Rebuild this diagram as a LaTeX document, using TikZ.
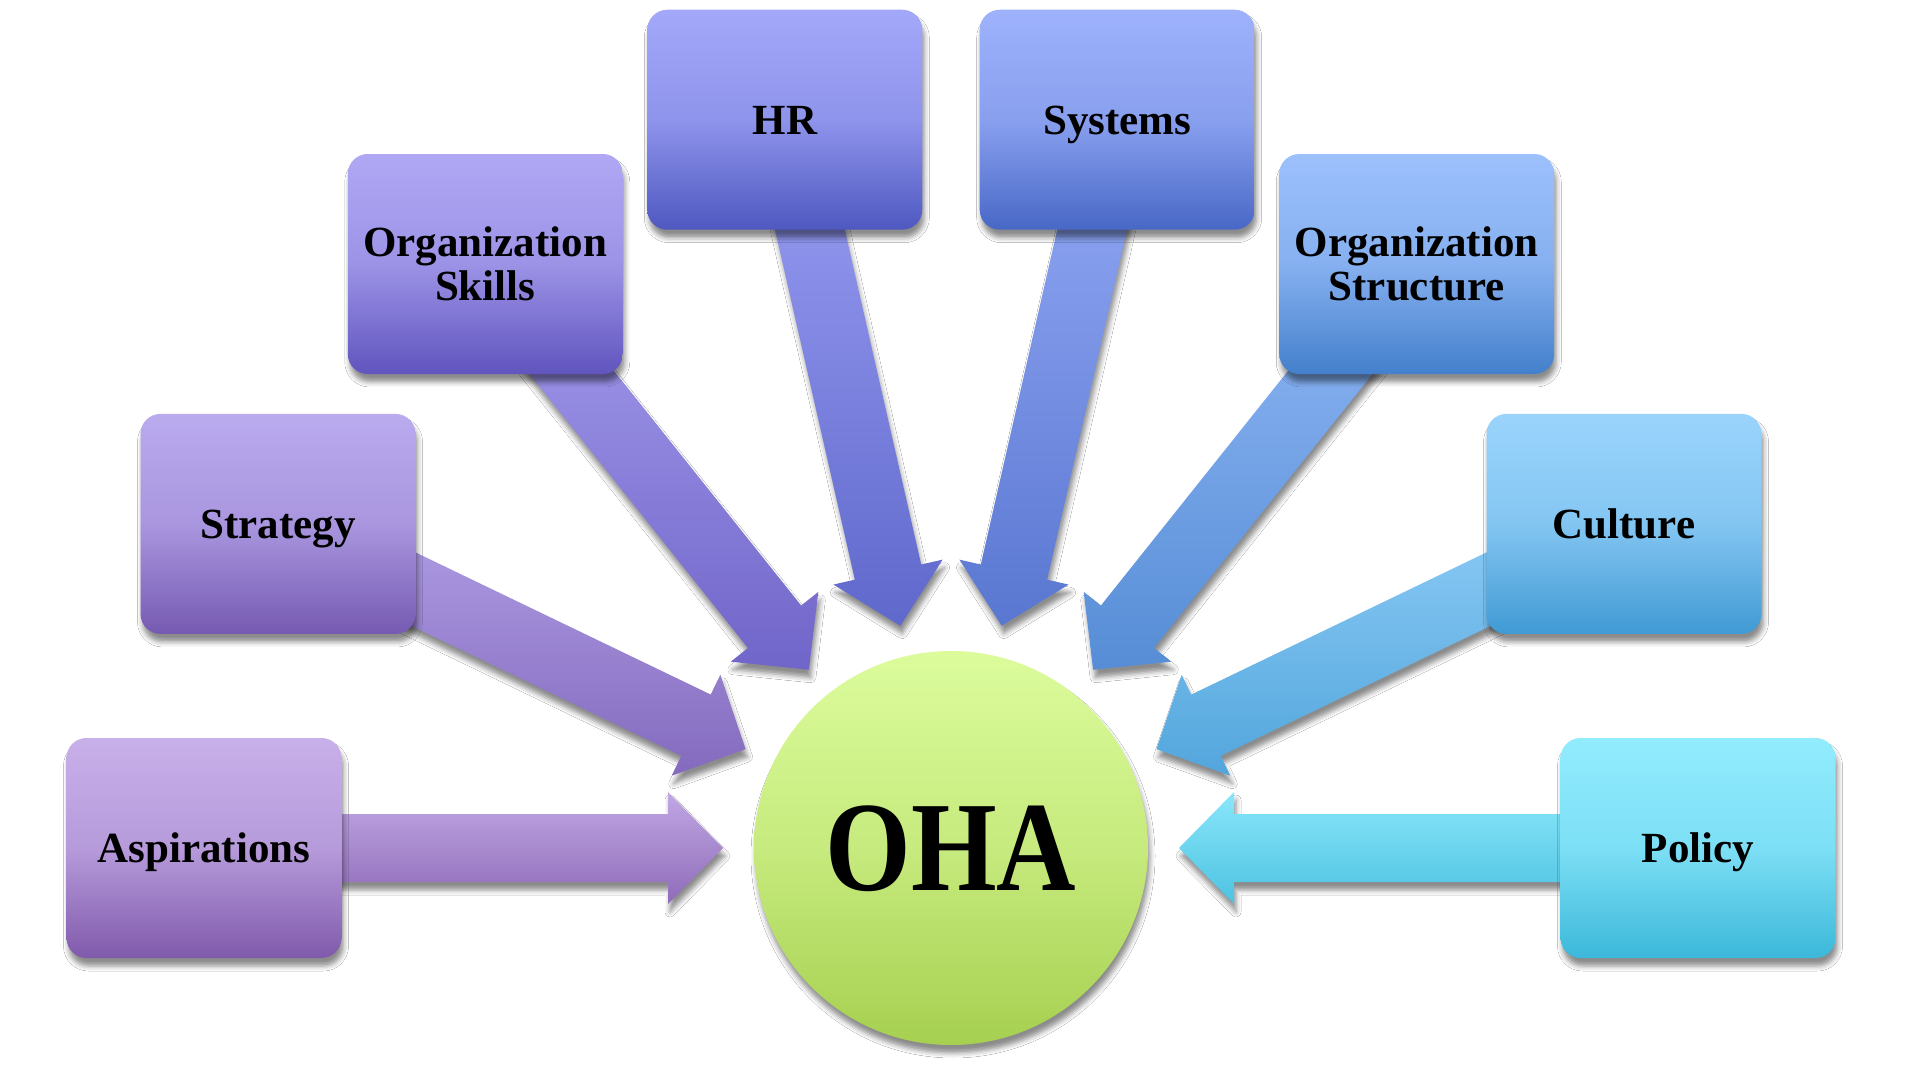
\documentclass[tikz,border=0pt]{standalone}
\usepackage{fontspec}
\usepackage{graphicx}
\setmainfont{Liberation Serif}
\usetikzlibrary{calc,shadows.blur,backgrounds}

\definecolor{aspT}{RGB}{200,176,234} \definecolor{aspB}{RGB}{128,90,172}
\definecolor{strT}{RGB}{186,170,238} \definecolor{strB}{RGB}{118,90,178}
\definecolor{sklT}{RGB}{176,168,244} \definecolor{sklB}{RGB}{96,84,190}
\definecolor{hrT}{RGB}{164,168,250}  \definecolor{hrB}{RGB}{78,88,192}
\definecolor{sysT}{RGB}{158,178,252} \definecolor{sysB}{RGB}{72,104,198}
\definecolor{stcT}{RGB}{156,192,252} \definecolor{stcB}{RGB}{68,128,204}
\definecolor{culT}{RGB}{154,212,252} \definecolor{culB}{RGB}{64,154,212}
\definecolor{polT}{RGB}{146,236,254} \definecolor{polB}{RGB}{60,184,218}
\definecolor{ohaT}{RGB}{220,252,156} \definecolor{ohaB}{RGB}{166,208,80}

\newcommand\twoline[2]{\vbox{\baselineskip=44pt\halign{\hfil##\hfil\cr#1\cr#2\cr}}}

\newcommand\fatarrow[2]{%
  \path[softshadow, top color=#2T!90!#2B, bottom color=#2T!20!#2B]
    ($(oha.center)!228pt!(#1.center)$)
    -- ($(oha.center)!283pt!(#1.center)!56pt!90:(#1.center)$)
    -- ($(oha.center)!283pt!(#1.center)!34pt!90:(#1.center)$)
    -- ($(#1.center)!34pt!-90:(oha.center)$)
    -- ($(#1.center)!34pt!90:(oha.center)$)
    -- ($(oha.center)!283pt!(#1.center)!34pt!-90:(#1.center)$)
    -- ($(oha.center)!283pt!(#1.center)!56pt!-90:(#1.center)$)
    -- cycle;}

\tikzset{
  softshadow/.style={blur shadow={shadow xshift=2pt, shadow yshift=-8pt,
      shadow blur radius=5pt, shadow opacity=45}},
  box/.style={softshadow, rectangle, rounded corners=20pt,
      minimum width=275pt, minimum height=220pt, inner sep=0pt,
      font=\fontsize{43}{44}\selectfont\bfseries,
      text height=29pt, text depth=0pt,
      top color=#1T, bottom color=#1B, middle color=#1T!75!#1B},
  tall/.style={text height=73pt, text depth=0pt},
  hub/.style={circle, minimum size=394pt, inner sep=0pt, softshadow,
      top color=ohaT, bottom color=ohaB, middle color=ohaT!60!ohaB,
      font=\fontsize{128}{130}\selectfont\bfseries,
      text height=85pt, text depth=0pt}
}

\begin{document}
\begin{tikzpicture}[x=1pt,y=1pt]
\useasboundingbox (0,0) rectangle (1906,1072);

\node[hub] (oha) at (951,224) {\scalebox{0.86}[1]{OHA}};

\node[box=asp] (asp) at ($(oha.center)+(180:747pt)$) {Aspirations};
\node[box=str] (str) at ($(oha.center)+(154.2857:747pt)$) {Strategy};
\node[box=skl,tall] (skl) at ($(oha.center)+(128.5714:747pt)$) {\twoline{Organization}{Skills}};
\node[box=hr] (hr) at ($(oha.center)+(102.8571:747pt)$) {HR};
\node[box=sys] (sys) at ($(oha.center)+(77.1429:747pt)$) {Systems};
\node[box=stc,tall] (stc) at ($(oha.center)+(51.4286:747pt)$) {\twoline{Organization}{Structure}};
\node[box=cul] (cul) at ($(oha.center)+(25.7143:747pt)$) {Culture};
\node[box=pol] (pol) at ($(oha.center)+(0:747pt)$) {Policy};

\begin{scope}[on background layer]
  \fill[white] (0,0) rectangle (1906,1072);
  \fatarrow{asp}{asp}
  \fatarrow{str}{str}
  \fatarrow{skl}{skl}
  \fatarrow{hr}{hr}
  \fatarrow{sys}{sys}
  \fatarrow{stc}{stc}
  \fatarrow{cul}{cul}
  \fatarrow{pol}{pol}
\end{scope}
\end{tikzpicture}
\end{document}
